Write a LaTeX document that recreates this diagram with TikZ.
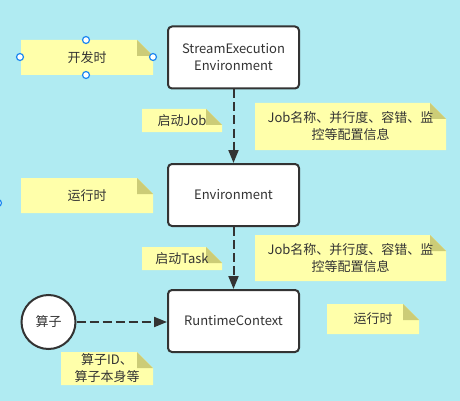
\documentclass[tikz,border=0pt]{standalone}
\usepackage{fontspec}
\setmainfont{Noto Sans CJK SC}
\usetikzlibrary{arrows.meta}
\definecolor{bg}{HTML}{B0EBF2}
\definecolor{notey}{HTML}{FFFFAA}
\definecolor{foldy}{HTML}{CCCC77}
\definecolor{ink}{HTML}{333333}
\definecolor{handlec}{HTML}{1E88F0}
\newcommand\mynote[6]{%
  \fill[notey] (#2,#3) -- ({#4-16},#3) -- (#4,{#3+16}) -- (#4,#5) -- (#2,#5) -- cycle;
  \fill[foldy] ({#4-16},#3) -- ({#4-16},{#3+16}) -- (#4,{#3+16}) -- cycle;
  \node[notetext] (#1) at ({(#2+#4)/2},{(#3+#5)/2}) {#6};}
\begin{document}
\begin{tikzpicture}[x=1pt,y=-1pt,
  font=\fontsize{13}{17}\selectfont,
  box/.style={draw=ink, line width=2pt, fill=white, rounded corners=4pt,
    minimum width=131pt, minimum height=62pt, align=center, inner sep=0pt, text=ink},
  notetext/.style={align=center, inner sep=0pt, text=ink},
  arr/.style={draw=ink, line width=2pt, dash pattern=on 9pt off 4pt,
    -{Triangle[length=13pt,width=10pt]}},
  handle/.style={draw=handlec, fill=white, line width=1.2pt}]
\fill[bg] (0,0) rectangle (460,401);
\useasboundingbox (0,0) rectangle (460,401);

% notes
\mynote{n1}{21}{40}{153}{75}{开发时}
\mynote{n2}{142}{109}{222}{132}{启动Job}
\mynote{n3}{255}{103}{446}{150}{Job名称、并行度、容错、监\\控等配置信息}
\mynote{n4}{21}{178}{153}{213}{运行时}
\mynote{n5}{142}{247}{222}{270}{启动Task}
\mynote{n6}{255}{235}{446}{281}{Job名称、并行度、容错、监\\控等配置信息}
\mynote{n7}{61}{352}{153}{385}{算子ID、\\算子本身等}
\mynote{n8}{327}{304}{419}{334}{运行时}

% selection handles
\draw[handle] (20,57) circle (3.5);
\draw[handle] (86,40) circle (3.5);
\draw[handle] (153,57) circle (3.5);
\draw[handle] (86,75) circle (3.5);
\draw[handle] (-2,203) circle (3.5);

% boxes
\node[box] (b1) at (233.5,57.5) {StreamExecution\\Environment};
\node[box] (b2) at (233.5,195) {Environment};
\node[box] (b3) at (233.5,321) {RuntimeContext};
\node[circle, draw=ink, line width=2pt, fill=white, minimum size=54pt, inner sep=0pt, text=ink] (op) at (48.5,322) {算子};

% connectors
\draw[arr] (b1) -- (b2);
\draw[arr] (b2) -- (b3);
\draw[arr] (op.east) -- (op.east -| b3.west);
\end{tikzpicture}
\end{document}
